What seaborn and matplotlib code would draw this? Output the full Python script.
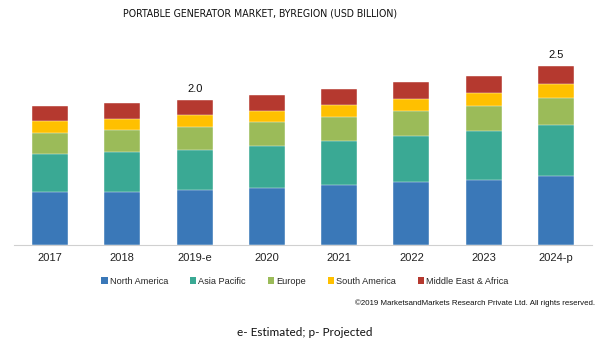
"""
Portable generator market by region, stacked bars.
"""

import numpy as np
import pandas as pd
import matplotlib.pyplot as plt
import seaborn as sns
from matplotlib.patches import Patch

# Data (USD billion)
years = ["2017", "2018", "2019-e", "2020", "2021", "2022", "2023", "2024-p"]
regions = ["North America", "Asia Pacific", "Europe", "South America", "Middle East & Africa"]
north_america = [0.72, 0.73, 0.76, 0.78, 0.82, 0.86, 0.89, 0.94]
asia_pacific = [0.52, 0.54, 0.54, 0.58, 0.60, 0.63, 0.67, 0.70]
europe = [0.29, 0.30, 0.31, 0.32, 0.33, 0.34, 0.35, 0.38]
south_america = [0.17, 0.16, 0.17, 0.16, 0.17, 0.17, 0.17, 0.19]
middle_east_africa = [0.21, 0.21, 0.21, 0.22, 0.22, 0.23, 0.24, 0.24]
labelled_totals = {"2019-e": "2.0", "2024-p": "2.5"}

colors = ["#3A78B8", "#3AA994", "#9BBB59", "#FFC000", "#B5392F"]


def main():
    sns.set_theme(style="white")
    plt.rcParams["font.family"] = ["Liberation Sans", "DejaVu Sans"]

    df = pd.DataFrame({
        "year": years,
        "North America": north_america,
        "Asia Pacific": asia_pacific,
        "Europe": europe,
        "South America": south_america,
        "Middle East & Africa": middle_east_africa,
    })
    cum = df[regions].cumsum(axis=1)
    cum["year"] = df["year"]

    fig = plt.figure(figsize=(6.11, 3.51), dpi=100)
    ax = fig.add_axes([14 / 611, 106 / 351, 578 / 611, 200 / 351])

    # Draw from the top segment down so each layer covers the one above it
    for region, color in zip(regions[::-1], colors[::-1]):
        sns.barplot(data=cum, x="year", y=region, color=color, width=0.5,
                    saturation=1, ax=ax, edgecolor="white", linewidth=0.3)

    ax.set_ylim(0, 200 / 73)
    ax.set_xlim(-0.5, len(years) - 0.5)
    ax.set_xlabel("")
    ax.set_ylabel("")
    ax.set_yticks([])
    sns.despine(ax=ax, left=True, top=True, right=True)
    ax.spines["bottom"].set_color("#D0D0D0")
    ax.spines["bottom"].set_linewidth(0.8)
    ax.tick_params(axis="x", length=0, pad=6, labelsize=8, labelcolor="#222222")

    totals = cum["Middle East & Africa"].values
    for i, yr in enumerate(years):
        if yr in labelled_totals:
            ax.text(i, totals[i] + 0.08, labelled_totals[yr], ha="center",
                    va="bottom", fontsize=8, color="#111111")

    # narrow title, like the original
    fig.text(260 / 611, 1 - 13 / 351, "PORTABLE GENERATOR MARKET, BYREGION (USD BILLION)",
             ha="center", va="center", fontsize=7.6, color="#111111",
             family=["DejaVu Sans"], fontstretch="condensed")

    handles = [Patch(facecolor=c, edgecolor="none") for c in colors]
    fig.legend(handles, regions, loc="center", bbox_to_anchor=(305 / 611, 1 - 281 / 351),
               ncol=5, frameon=False, fontsize=6.6, handlelength=0.7, handleheight=0.7,
               handletextpad=0.2, columnspacing=2.4, borderaxespad=0)

    fig.text(595 / 611, 1 - 303 / 351,
             "\u00a92019 MarketsandMarkets Research Private Ltd. All rights reserved.",
             ha="right", va="center", fontsize=5.7, color="#111111")
    fig.text(305 / 611, 1 - 333 / 351, "e- Estimated; p- Projected", ha="center",
             va="center", fontsize=8.5, color="#111111", family=["Lato", "DejaVu Sans"])

    fig.savefig("out.png", dpi=100)


if __name__ == "__main__":
    main()
